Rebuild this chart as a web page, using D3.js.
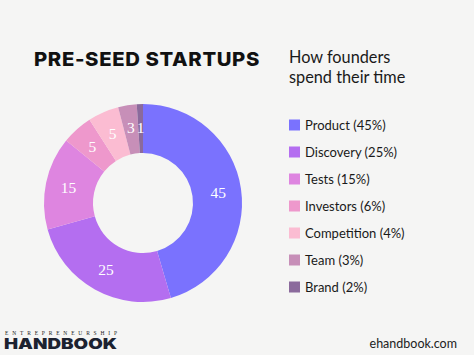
<!DOCTYPE html>
<html><head><meta charset="utf-8">
<script src="https://cdn.jsdelivr.net/npm/d3@7"></script>
<style>
html,body{margin:0;padding:0;background:#f5f5f4;}
svg{display:block;}
</style></head>
<body>
<svg id="chart" width="474" height="355"></svg>
<script>
const categories = ["Product", "Discovery", "Tests", "Investors", "Competition", "Team", "Brand"];
const sliceValues = [45, 25, 15, 5, 5, 3, 1];
const legendPercents = [45, 25, 15, 6, 4, 3, 2];
const colors = ["#7a72fe", "#b46ef0", "#de85e0", "#ee98cc", "#fbbcd2", "#c78fb8", "#8b6a9c"];
const title = "PRE-SEED STARTUPS";
const subtitle = ["How founders", "spend their time"];

const svg = d3.select("#chart");
svg.append("rect").attr("width", 474).attr("height", 355).attr("fill", "#f5f5f4");

// Title
svg.append("text").attr("x", 34).attr("y", 66)
  .attr("font-family", "Inter, 'Open Sans', sans-serif").attr("font-weight", 800)
  .attr("font-size", 19).attr("letter-spacing", 0.6).attr("fill", "#111")
  .attr("textLength", 226).attr("lengthAdjust", "spacingAndGlyphs")
  .text(title);

svg.selectAll("text.sub").data(subtitle).join("text").attr("class", "sub")
  .attr("x", 289).attr("y", (d, i) => 63 + i * 19.5)
  .attr("font-family", "Lato, 'Open Sans', sans-serif").attr("font-size", 16.3)
  .attr("fill", "#1a1a1a").text(d => d);

// Donut
const cx = 143, cy = 203, rOuter = 99, rInner = 50;
const g = svg.append("g").attr("transform", `translate(${cx},${cy})`);
const pie = d3.pie().sort(null).value(d => d.v);
const data = pie(sliceValues.map((v, i) => ({v, i})));
const arc = d3.arc().innerRadius(rInner).outerRadius(rOuter);

g.selectAll("path").data(data).join("path")
  .attr("d", arc).attr("fill", d => colors[d.data.i]);

g.selectAll("text.val").data(data).join("text").attr("class", "val")
  .attr("transform", d => {
    const m = (d.startAngle + d.endAngle) / 2;
    const r = 76;
    return `translate(${Math.sin(m) * r},${-Math.cos(m) * r})`;
  })
  .attr("text-anchor", "middle").attr("dominant-baseline", "central")
  .attr("font-family", "'Liberation Serif', 'DejaVu Serif', serif")
  .attr("font-size", 15.5).attr("fill", "#ffffff")
  .text(d => d.data.v);

// Legend
const legend = svg.append("g");
const y0 = 125, step = 27;
legend.selectAll("rect").data(categories).join("rect")
  .attr("x", 289).attr("y", (d, i) => y0 + i * step - 5.5)
  .attr("width", 11).attr("height", 11)
  .attr("fill", (d, i) => colors[i]);
legend.selectAll("text").data(categories).join("text")
  .attr("x", 305).attr("y", (d, i) => y0 + i * step)
  .attr("dominant-baseline", "central")
  .attr("font-family", "Lato, 'Open Sans', sans-serif").attr("font-size", 13)
  .attr("fill", "#1a1a1a")
  .text((d, i) => `${d} (${legendPercents[i]}%)`);

// Footer
svg.append("text").attr("x", 5).attr("y", 335)
  .attr("font-family", "'Liberation Serif', serif").attr("font-size", 5.5)
  .attr("fill", "#222").attr("textLength", 112).attr("lengthAdjust", "spacing")
  .text("ENTREPRENEURSHIP");
svg.append("text").attr("x", 4).attr("y", 349)
  .attr("font-family", "Inter, sans-serif").attr("font-weight", 900)
  .attr("font-size", 14.5).attr("fill", "#1c2230")
  .attr("textLength", 113).attr("lengthAdjust", "spacingAndGlyphs")
  .text("HANDBOOK");
svg.append("text").attr("x", 457).attr("y", 348).attr("text-anchor", "end")
  .attr("font-family", "Lato, 'Open Sans', sans-serif").attr("font-size", 12.5)
  .attr("fill", "#222").text("ehandbook.com");
</script>
</body></html>
